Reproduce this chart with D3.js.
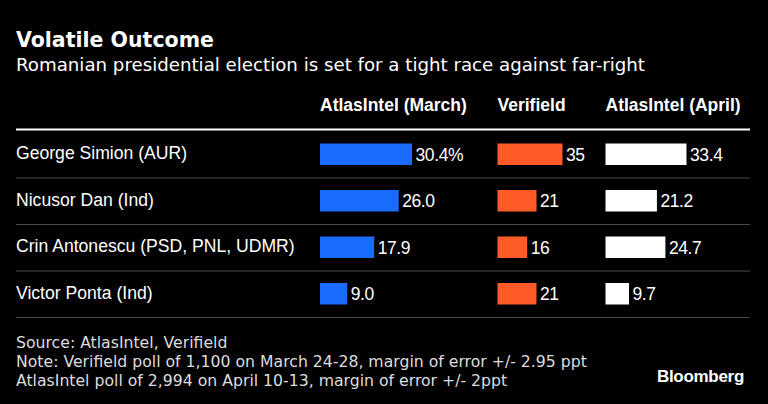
<!DOCTYPE html>
<html><head><meta charset="utf-8">
<script src="https://cdn.jsdelivr.net/npm/d3@7"></script>
<style>body{margin:0;background:#000;}svg{display:block;}</style>
</head><body>
<script>
const candidates = ["George Simion (AUR)", "Nicusor Dan (Ind)", "Crin Antonescu (PSD, PNL, UDMR)", "Victor Ponta (Ind)"];
const seriesNames = ["AtlasIntel (March)", "Verifield", "AtlasIntel (April)"];
const atlasMarch = [30.4, 26.0, 17.9, 9.0];
const verifield = [35, 21, 16, 21];
const atlasApril = [33.4, 21.2, 24.7, 9.7];
const marchLabels = ["30.4%", "26.0", "17.9", "9.0"];
const verifieldLabels = ["35", "21", "16", "21"];
const aprilLabels = ["33.4", "21.2", "24.7", "9.7"];
const colors = ["#1a6cff", "#ff5a28", "#ffffff"];

const W = 768, H = 404;
const svg = d3.select("body").append("svg").attr("width", W).attr("height", H);
svg.append("rect").attr("width", W).attr("height", H).attr("fill", "#000");

const dejavu = "'DejaVu Sans', sans-serif";
const helv = "'Liberation Sans', Arial, sans-serif";

svg.append("text").attr("x", 16).attr("y", 47).attr("fill", "#fff")
  .attr("font-family", dejavu).attr("font-weight", "bold").attr("font-size", 20.5)
  .text("Volatile Outcome");
svg.append("text").attr("x", 16).attr("y", 70.5).attr("fill", "#fff")
  .attr("font-family", dejavu).attr("font-size", 18.2)
  .text("Romanian presidential election is set for a tight race against far-right");

const y = d3.scaleBand().domain(candidates).range([131, 317]).paddingInner(0).paddingOuter(0);
const barH = 21.5;

const cols = [
  {x0: 320, vals: atlasMarch, labels: marchLabels, scale: d3.scaleLinear().domain([0, 30.4]).range([0, 92])},
  {x0: 497.5, vals: verifield, labels: verifieldLabels, scale: d3.scaleLinear().domain([0, 35]).range([0, 65])},
  {x0: 605.5, vals: atlasApril, labels: aprilLabels, scale: d3.scaleLinear().domain([0, 33.4]).range([0, 81])}
];

// header
cols.forEach((c, i) => {
  svg.append("text").attr("x", c.x0).attr("y", 111).attr("fill", "#fff")
    .attr("font-family", helv).attr("font-weight", "bold").attr("font-size", 17.5)
    .text(seriesNames[i]);
});
svg.append("line").attr("x1", 16).attr("x2", 750).attr("y1", 129.5).attr("y2", 129.5)
  .attr("stroke", "#fff").attr("stroke-width", 2);

// row separators
candidates.forEach((c, i) => {
  const yy = y(c) + y.bandwidth() + 0.5;
  svg.append("line").attr("x1", 16).attr("x2", 750).attr("y1", yy).attr("y2", yy)
    .attr("stroke", "#4a4a4a").attr("stroke-width", 1);
});

// row labels
svg.selectAll("text.rowlab").data(candidates).join("text").attr("class", "rowlab")
  .attr("x", 16).attr("y", d => y(d) + y.bandwidth() / 2 + 4.8)
  .attr("fill", "#fff").attr("font-family", helv).attr("font-size", 17.6)
  .text(d => d);

cols.forEach((c, ci) => {
  const g = svg.append("g");
  g.selectAll("rect").data(c.vals).join("rect")
    .attr("x", c.x0)
    .attr("y", (d, i) => y(candidates[i]) + y.bandwidth() / 2 - barH / 2)
    .attr("width", d => c.scale(d))
    .attr("height", barH)
    .attr("fill", colors[ci]);
  g.selectAll("text").data(c.vals).join("text")
    .attr("x", d => c.x0 + c.scale(d) + 3.5)
    .attr("y", (d, i) => y(candidates[i]) + y.bandwidth() / 2 + 6.3)
    .attr("fill", "#fff").attr("font-family", helv).attr("font-size", 17.5)
    .attr("letter-spacing", -0.4)
    .text((d, i) => c.labels[i]);
});

const foot = ["Source: AtlasIntel, Verifield",
  "Note: Verifield poll of 1,100 on March 24-28, margin of error +/- 2.95 ppt",
  "AtlasIntel poll of 2,994 on April 10-13, margin of error +/- 2ppt"];
foot.forEach((t, i) => {
  svg.append("text").attr("x", 16).attr("y", 348 + i * 19).attr("fill", "#ddd")
    .attr("font-family", dejavu).attr("font-size", 15.7).text(t);
});
svg.append("text").attr("x", 744).attr("y", 382).attr("text-anchor", "end").attr("fill", "#fff")
  .attr("font-family", helv).attr("font-weight", "bold").attr("font-size", 17)
  .attr("letter-spacing", -0.3).text("Bloomberg");
</script>
</body></html>
